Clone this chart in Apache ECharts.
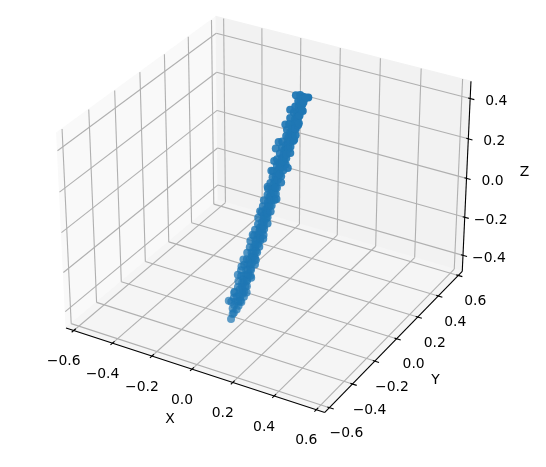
<!DOCTYPE html>
<html>
<head>
<meta charset="utf-8">
<script src="https://cdn.jsdelivr.net/npm/echarts@6/dist/echarts.min.js"></script>
<style>
  html, body { margin: 0; background: #fff; }
  #chart { width: 546px; height: 467px; }
</style>
</head>
<body>
<div id="chart"></div>
<script>
const xTicks = [-0.6, -0.4, -0.2, 0, 0.2, 0.4, 0.6];
const yTicks = [-0.6, -0.4, -0.2, 0, 0.2, 0.4, 0.6];
const zTicks = [-0.4, -0.2, 0, 0.2, 0.4];
const xLim = [-0.64, 0.64];
const yLim = [-0.64, 0.64];
const zLim = [-0.485, 0.485];

const zs = [-0.452,-0.441,-0.432,-0.425,-0.418,-0.410,-0.402,-0.396,-0.388,-0.381,-0.374,-0.366,-0.359,-0.351,-0.344,-0.336,-0.329,-0.322,-0.315,-0.307,
  -0.300,-0.293,-0.286,-0.279,-0.271,-0.264,-0.257,-0.249,-0.242,-0.235,-0.228,-0.221,-0.214,-0.206,-0.199,-0.192,-0.184,-0.177,-0.169,-0.162,
  -0.155,-0.147,-0.140,-0.132,-0.125,-0.118,-0.110,-0.103,-0.095,-0.088,-0.081,-0.073,-0.066,-0.058,-0.051,-0.044,-0.036,-0.029,-0.021,-0.014,
  -0.006,0.001,0.009,0.016,0.024,0.031,0.039,0.046,0.054,0.061,0.069,0.076,0.084,0.091,0.099,0.106,0.114,0.121,0.129,0.136,
  0.144,0.151,0.159,0.166,0.174,0.181,0.189,0.196,0.204,0.211,0.219,0.226,0.234,0.241,0.249,0.256,0.264,0.271,0.279,0.286,
  0.294,0.301,0.309,0.316,0.324,0.331,0.339,0.346,0.354,0.361,0.369,0.376,0.384,0.391,0.399,0.406,0.414,0.421,0.429,0.436,0.444,0.440,
  -0.405,-0.395,-0.385,-0.372,-0.362,-0.352,-0.340,-0.330,-0.318,-0.308,-0.296,-0.286,-0.274,-0.262,-0.250,-0.238,-0.226,-0.214,-0.202,-0.190,
  -0.178,-0.166,-0.154,-0.142,-0.130,-0.118,-0.106,-0.094,-0.082,-0.070,-0.058,-0.046,-0.034,-0.022,-0.010,0.002,0.014,0.026,0.038,0.050,
  0.062,0.074,0.086,0.098,0.110,0.122,0.134,0.146,0.158,0.170,0.182,0.194,0.206,0.218,0.230,0.242,0.254,0.266,0.278,0.290,
  0.302,0.314,0.326,0.338,0.350,0.362,0.374,0.386,0.398,0.410,0.422,0.434,0.446,
  0.220,0.272,0.160,0.132,0.032,-0.296,-0.292,-0.220,-0.132,-0.128,-0.404,-0.352,-0.470,0.440,0.444,0.330,0.320,0.248,0.172,0.068,
  0.380,0.388,-0.032,-0.232,-0.260,-0.368];
const xs = [-0.046,-0.038,-0.053,-0.028,-0.050,-0.024,-0.046,-0.030,-0.020,-0.045,-0.026,-0.033,-0.018,-0.040,-0.021,-0.030,-0.014,-0.036,-0.024,-0.032,
  -0.012,-0.035,-0.022,-0.012,-0.030,-0.020,-0.009,-0.032,-0.018,-0.008,-0.028,-0.014,-0.020,-0.006,-0.026,-0.012,-0.003,-0.022,-0.010,-0.016,
  -0.001,-0.020,-0.007,0.002,-0.016,-0.004,-0.012,0.004,-0.014,-0.002,0.006,-0.010,0.001,-0.006,0.008,-0.010,0.003,0.010,-0.006,0.005,
  -0.001,0.011,-0.005,0.006,0.013,-0.002,0.008,0.002,0.016,-0.002,0.010,0.018,0.002,0.013,0.006,0.020,0.003,0.015,0.023,0.006,
  0.017,0.010,0.026,0.007,0.020,0.029,0.012,0.024,0.016,0.032,0.013,0.026,0.036,0.016,0.030,0.022,0.038,0.018,0.032,0.041,
  0.022,0.036,0.027,0.044,0.024,0.038,0.048,0.030,0.044,0.036,0.050,0.030,0.044,0.052,0.034,0.047,0.040,0.054,0.036,0.050,0.060,0.044,
  -0.064,-0.017,-0.055,-0.011,-0.058,-0.015,-0.048,-0.009,-0.052,-0.013,-0.046,-0.003,-0.052,-0.007,-0.044,0.005,-0.037,-0.002,-0.043,0.002,
  -0.037,0.006,-0.041,0.003,-0.030,0.013,-0.032,0.009,-0.024,0.019,-0.030,0.012,-0.021,0.020,-0.021,0.018,-0.023,0.026,-0.012,0.025,
  -0.016,0.023,-0.012,0.037,-0.008,0.030,-0.013,0.034,-0.001,0.038,-0.007,0.034,0.000,0.047,0.004,0.041,-0.002,0.047,0.010,0.052,
  0.007,0.046,0.011,0.054,0.009,0.046,0.020,0.049,0.020,0.049,0.028,0.053,0.030,
  -0.025,0.051,0.052,-0.021,0.034,-0.063,0.003,0.005,0.016,-0.038,-0.077,-0.002,-0.046,0.010,0.070,0.053,-0.007,-0.019,-0.019,-0.021,
  -0.001,0.059,-0.029,-0.054,-0.055,-0.060];
const ys = [-0.226,-0.229,-0.214,-0.222,-0.205,-0.212,-0.199,-0.205,-0.203,-0.190,-0.195,-0.192,-0.188,-0.174,-0.181,-0.172,-0.170,-0.160,-0.166,-0.152,
  -0.157,-0.146,-0.149,-0.147,-0.135,-0.138,-0.134,-0.122,-0.126,-0.124,-0.112,-0.116,-0.104,-0.108,-0.096,-0.102,-0.098,-0.087,-0.090,-0.080,
  -0.083,-0.072,-0.074,-0.069,-0.060,-0.063,-0.052,-0.055,-0.044,-0.047,-0.045,-0.034,-0.035,-0.026,-0.029,-0.018,-0.020,-0.017,-0.007,-0.009,
  0.000,-0.002,0.009,0.007,0.009,0.019,0.018,0.027,0.025,0.036,0.034,0.036,0.047,0.045,0.054,0.052,0.063,0.061,0.063,0.073,
  0.072,0.081,0.078,0.090,0.088,0.090,0.100,0.099,0.109,0.106,0.118,0.116,0.117,0.128,0.126,0.135,0.132,0.145,0.143,0.144,
  0.155,0.153,0.162,0.159,0.172,0.170,0.171,0.181,0.179,0.188,0.186,0.198,0.196,0.197,0.206,0.206,0.213,0.212,0.222,0.220,0.220,0.226,
  -0.207,-0.200,-0.200,-0.188,-0.188,-0.178,-0.176,-0.166,-0.165,-0.157,-0.152,-0.144,-0.142,-0.133,-0.129,-0.120,-0.117,-0.108,-0.104,-0.096,
  -0.092,-0.084,-0.080,-0.071,-0.067,-0.059,-0.055,-0.047,-0.043,-0.035,-0.031,-0.023,-0.018,-0.010,-0.006,0.002,0.006,0.014,0.018,0.026,
  0.030,0.039,0.043,0.051,0.055,0.063,0.067,0.075,0.080,0.088,0.092,0.100,0.104,0.112,0.116,0.124,0.128,0.137,0.141,0.149,
  0.153,0.161,0.165,0.173,0.177,0.185,0.189,0.197,0.201,0.210,0.213,0.222,0.226,
  0.112,0.139,0.082,0.067,0.016,-0.151,-0.149,-0.112,-0.067,-0.065,-0.206,-0.180,-0.240,0.224,0.226,0.168,0.163,0.126,0.088,0.035,
  0.194,0.198,-0.016,-0.118,-0.133,-0.188];

const tickFormat = v => v.toFixed(1).replace('-', '\u2212');

// same camera as a default mplot3d view: elev 30, azim -60, dist 10
const elev = 30 * Math.PI / 180, azim = -60 * Math.PI / 180, dist = 10;
const boxK = 1.8294640721620434 * 25 / 24 / Math.sqrt(41);
const box = [4 * boxK, 4 * boxK, 3 * boxK];
const eyeDir = [Math.cos(elev) * Math.cos(azim), Math.cos(elev) * Math.sin(azim), Math.sin(elev)];
const cross = (a, b) => [a[1]*b[2]-a[2]*b[1], a[2]*b[0]-a[0]*b[2], a[0]*b[1]-a[1]*b[0]];
const dot = (a, b) => a[0]*b[0] + a[1]*b[1] + a[2]*b[2];
const norm = a => { const l = Math.sqrt(dot(a, a)); return a.map(v => v / l); };
const camU = norm(cross([0, 0, 1], eyeDir));
const camV = cross(eyeDir, camU);

function toWorld(x, y, z) {
  return [
    ((x - xLim[0]) / (xLim[1] - xLim[0]) - 0.5) * box[0],
    ((y - yLim[0]) / (yLim[1] - yLim[0]) - 0.5) * box[1],
    ((z - zLim[0]) / (zLim[1] - zLim[0]) - 0.5) * box[2]
  ];
}
function project(x, y, z) {
  const w = toWorld(x, y, z);
  const d = dist - dot(w, eyeDir);
  return [dot(w, camU) / d, dot(w, camV) / d];
}

// view plane to pixels, handed to the hidden value axes as their extents
const scale = 2490, centerX = 267.8, centerY = 205;
const W = 546, H = 467;

const [x0, x1] = xLim, [y0, y1] = yLim, [z0, z1] = zLim;
const panes = [
  { color: '#f9f9f9', pts: [[x0,y0,z0],[x0,y1,z0],[x0,y1,z1],[x0,y0,z1]] },
  { color: '#f2f2f2', pts: [[x0,y1,z0],[x1,y1,z0],[x1,y1,z1],[x0,y1,z1]] },
  { color: '#f5f5f5', pts: [[x0,y0,z0],[x1,y0,z0],[x1,y1,z0],[x0,y1,z0]] }
];

const grid = [];
xTicks.forEach(t => { grid.push([[t,y0,z0],[t,y1,z0]], [[t,y1,z0],[t,y1,z1]]); });
yTicks.forEach(t => { grid.push([[x1,t,z0],[x0,t,z0]], [[x0,t,z0],[x0,t,z1]]); });
zTicks.forEach(t => { grid.push([[x0,y0,t],[x0,y1,t]], [[x0,y1,t],[x1,y1,t]]); });

const axisLines = [
  [[x0,y0,z0],[x1,y0,z0]],
  [[x1,y0,z0],[x1,y1,z0]],
  [[x1,y1,z0],[x1,y1,z1]]
];
xTicks.forEach(t => axisLines.push([[t,y0+0.016,z0],[t,y0-0.016,z0]]));
yTicks.forEach(t => axisLines.push([[x1-0.01,t,z0],[x1+0.02,t,z0]]));
zTicks.forEach(t => axisLines.push([[x1-0.01,y1,t],[x1+0.02,y1,t]]));

const texts = [];
const addTick = (t, p, dx, dy) => texts.push({ name: tickFormat(t), value: project(p[0], p[1], p[2]), dx, dy });
xTicks.forEach(t => addTick(t, [t, y0, z0], -10, 31));
yTicks.forEach(t => addTick(t, [x1, t, z0], 17, 26));
zTicks.forEach(t => addTick(t, [x1, y1, t], 26, 3));
texts.push({ name: 'X', value: project(0, y0, z0), dx: -22, dy: 50 });
texts.push({ name: 'Y', value: project(x1, 0, z0), dx: 39, dy: 42 });
texts.push({ name: 'Z', value: project(x1, y1, 0), dx: 58, dy: -6 });

const depths = zs.map((z, i) => dot(toWorld(xs[i], ys[i], z), eyeDir));
const dMin = Math.min(...depths), dMax = Math.max(...depths);
const points = zs.map((z, i) => ({ i, d: depths[i] }))
  .sort((a, b) => a.d - b.d)
  .map(p => ({
    value: project(xs[p.i], ys[p.i], zs[p.i]),
    itemStyle: { opacity: 0.7 + 0.3 * (p.d - dMin) / (dMax - dMin) }
  }));

const chart = echarts.init(document.getElementById('chart'), null, { renderer: 'canvas' });
chart.setOption({
  animation: false,
  backgroundColor: '#ffffff',
  grid: { left: 0, right: 0, top: 0, bottom: 0 },
  xAxis: { type: 'value', show: false, min: -centerX / scale, max: (W - centerX) / scale },
  yAxis: { type: 'value', show: false, min: -(H - centerY) / scale, max: centerY / scale },
  series: [
    {
      type: 'custom',
      silent: true,
      z: 1,
      data: panes.map((p, i) => [i]),
      renderItem: (params, api) => {
        const pane = panes[api.value(0)];
        return {
          type: 'polygon',
          shape: { points: pane.pts.map(q => api.coord(project(q[0], q[1], q[2]))) },
          style: { fill: pane.color, stroke: pane.color, lineWidth: 1.1 }
        };
      }
    },
    {
      type: 'custom',
      silent: true,
      z: 2,
      data: grid.map((s, i) => [i]),
      renderItem: (params, api) => {
        const s = grid[api.value(0)];
        const a = api.coord(project(s[0][0], s[0][1], s[0][2]));
        const b = api.coord(project(s[1][0], s[1][1], s[1][2]));
        return { type: 'line', shape: { x1: a[0], y1: a[1], x2: b[0], y2: b[1] }, style: { stroke: '#b0b0b0', lineWidth: 1.1 } };
      }
    },
    {
      type: 'custom',
      silent: true,
      z: 3,
      data: axisLines.map((s, i) => [i]),
      renderItem: (params, api) => {
        const s = axisLines[api.value(0)];
        const a = api.coord(project(s[0][0], s[0][1], s[0][2]));
        const b = api.coord(project(s[1][0], s[1][1], s[1][2]));
        return { type: 'line', shape: { x1: a[0], y1: a[1], x2: b[0], y2: b[1] }, style: { stroke: '#000000', lineWidth: 1.1 } };
      }
    },
    {
      type: 'scatter',
      silent: true,
      z: 4,
      symbolSize: 8,
      itemStyle: { color: '#1f77b4' },
      data: points
    },
    {
      type: 'custom',
      silent: true,
      z: 5,
      data: texts.map((t, i) => [i]),
      renderItem: (params, api) => {
        const t = texts[api.value(0)];
        const c = api.coord(t.value);
        return {
          type: 'text',
          x: c[0] + t.dx,
          y: c[1] + t.dy,
          style: {
            text: t.name,
            fill: '#000000',
            font: '13.9px "DejaVu Sans"',
            align: 'center',
            verticalAlign: 'middle'
          }
        };
      }
    }
  ]
});
</script>
</body>
</html>
